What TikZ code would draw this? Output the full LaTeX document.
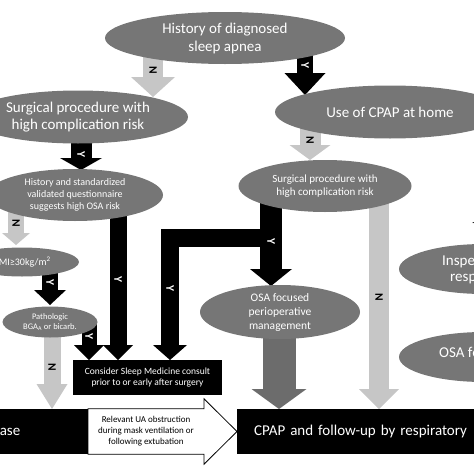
\documentclass[tikz,border=0pt]{standalone}
\usepackage{fontspec}
\setmainfont{Carlito}
\usetikzlibrary{shapes,arrows.meta,backgrounds}
\definecolor{ellgray}{RGB}{118,118,118}
\definecolor{lgray}{RGB}{198,198,198}
\definecolor{dgray}{RGB}{108,108,108}

\tikzset{
  ell/.style={ellipse,fill=ellgray,text=white,inner sep=0pt,align=center},
  bar/.style={rectangle,fill=black,text=white,inner sep=0pt,minimum height=45pt},
  lbl/.style={rotate=-90,inner sep=0pt,font=\bfseries\fontsize{11.5}{12}\selectfont},
  ylbl/.style={lbl,text=white},
  yarr/.style n args={3}{draw=black,line width=#1,-{Triangle[length=#2,width=#3,line width=0pt]}},
  narr/.style n args={3}{draw=lgray,line width=#1,-{Triangle[length=#2,width=#3,line width=0pt]}},
  garr/.style n args={3}{draw=dgray,line width=#1,-{Triangle[length=#2,width=#3,line width=0pt]}},
}

\begin{document}
\begin{tikzpicture}[x=1pt,y=1pt]
      \useasboundingbox (0,0) rectangle (474,-474);
      \clip (0,0) rectangle (474,-474);
      % questions
      \node[ell,minimum width=240pt,minimum height=52pt,font=\fontsize{15}{18}\selectfont] (hist) at (225,-38) {History of diagnosed\\sleep apnea};
      \node[ell,minimum width=220pt,minimum height=53pt,font=\fontsize{15}{17}\selectfont] (surgL) at (78,-117) {Surgical procedure with\\high complication risk};
      \node[ell,minimum width=230pt,minimum height=53pt,font=\fontsize{15}{18}\selectfont] (cpap) at (390,-112) {Use of CPAP at home};
      \node[ell,minimum width=173pt,minimum height=52pt,font=\fontsize{11}{13}\selectfont] (surgR) at (325,-186) {Surgical procedure with\\high complication risk};
      \node[ell,minimum width=176pt,minimum height=52pt,font=\fontsize{10}{12}\selectfont] (histStd) at (75,-195) {History and standardized\\validated questionnaire\\suggests high OSA risk};
      \node[ell,minimum width=114pt,minimum height=29pt,font=\fontsize{10}{12}\selectfont] (bmi) at (22,-262) {BMI≥30kg/m\textsuperscript{2}};
      \node[ell,minimum width=95pt,minimum height=31pt,font=\fontsize{8.5}{10}\selectfont] (patho) at (50,-322) {Pathologic\\BGA\textsubscript{A} or bicarb.};
      \node[ell,minimum width=160pt,minimum height=54pt,font=\fontsize{11.5}{14}\selectfont] (osaF) at (280,-312) {OSA focused\\perioperative\\management};
      \node[bar,minimum width=149pt,minimum height=35pt,align=center,font=\fontsize{9.5}{11.5}\selectfont] (cons) at (147.5,-377.5) {Consider Sleep Medicine consult\\prior to or early after surgery};
      % right column, cut off
      \node[ell,minimum width=170pt,minimum height=50pt] (insp) at (484,-269) {};
      \node[anchor=west,inner sep=0pt,text=white,font=\fontsize{15}{18}\selectfont] (inspA) at (442,-262) {Inspe};
      \node[anchor=west,inner sep=0pt,text=white,font=\fontsize{15}{18}\selectfont] (inspB) at (450,-279) {resp};
      \node[ell,minimum width=170pt,minimum height=50pt] (osaR) at (484,-357) {};
      \node[anchor=west,inner sep=0pt,text=white,font=\fontsize{15}{18}\selectfont] (osaRt) at (439,-352) {OSA fo};
      \node[anchor=north west,inner sep=0pt,text=black!85,font=\fontsize{14}{16}\selectfont] (tpart) at (472.5,-222) {T};
      % bottom bar
      \node[bar,anchor=east,text width=88pt,align=left,font=\fontsize{15}{18}\selectfont] (phase) at (88,-431.5) {ase};
      \node[bar,anchor=west,text width=243pt,align=left,font=\fontsize{15}{18}\selectfont] (cpapF) at (237,-431.5) {\hspace*{17pt}CPAP and follow-up by respiratory};
      \draw[fill=white,line width=0.8pt,line join=miter] (phase.north east) -- ([xshift=-33pt]cpapF.north west) -- ([xshift=-33pt,yshift=10pt]cpapF.north west) -- (cpapF.west) -- ([xshift=-33pt,yshift=-10pt]cpapF.south west) -- ([xshift=-33pt]cpapF.south west) -- (phase.south east) -- cycle;
      \node[align=center,font=\fontsize{9}{11}\selectfont] (uaobs) at (146,-431.5) {Relevant UA obstruction\\during mask ventilation or\\following extubation};

      \begin{scope}[on background layer]
      \coordinate (tN1) at (153,-97);
      \coordinate (tY1) at (305,-95);
      \coordinate (tY2) at (81,-170);
      \coordinate (tN2) at (310,-160);
      \coordinate (tN3) at (16,-245);
      \coordinate (tY3) at (50,-305);
      \coordinate (tY4) at (89,-360);
      \coordinate (tY5) at (118,-360);
      \coordinate (kink) at (170,-237.5);
      \coordinate (tY6) at (170,-360);
      \coordinate (tOSA) at (271,-286);
      \coordinate (tN4) at (52,-409);
      \coordinate (tN5) at (379,-409);
      \coordinate (tG) at (279,-409);
      \draw[narr={20pt}{20pt}{44pt}] (hist -| tN1) -- node[lbl,pos=.54] {N} (tN1);
      \draw[yarr={16pt}{22pt}{41pt}] (hist -| tY1) -- node[ylbl,pos=.49] {Y} (tY1);
      \draw[yarr={21pt}{12pt}{42pt}] (surgL -| tY2) -- node[ylbl,pos=.71] {Y} (tY2);
      \draw[narr={21pt}{15pt}{41pt}] (cpap -| tN2) -- node[lbl,pos=.58] {N} (tN2);
      \draw[narr={16pt}{12pt}{28pt}] (histStd -| tN3) -- node[lbl,pos=.56] {N} (tN3);
      \draw[yarr={16pt}{15pt}{32pt}] (bmi -| tY3) -- node[ylbl,pos=.47] {Y} (tY3);
      \draw[yarr={15pt}{15pt}{30pt}] (patho -| tY4) -- node[ylbl,pos=.39] {Y} (tY4);
      \draw[yarr={17pt}{15pt}{30pt}] (histStd -| tY5) -- node[ylbl,pos=.51] {Y} (tY5);
      \draw[yarr={18pt}{15pt}{34pt},line join=miter] (surgR -| tOSA) |- (kink) -- node[ylbl,pos=.42] {Y} (tY6);
      \draw[yarr={22pt}{17pt}{42pt}] (surgR -| tOSA) -- node[ylbl,pos=.55] {Y} (tOSA);
      \draw[narr={17pt}{25pt}{31pt}] (patho -| tN4) -- node[lbl,pos=.52] {N} (tN4);
      \draw[narr={20pt}{20pt}{40pt}] (surgR -| tN5) -- node[lbl,pos=.5] {N} (tN5);
      \draw[garr={33pt}{20pt}{55pt}] (osaF -| tG) -- (tG);
      \end{scope}
\end{tikzpicture}
\end{document}
